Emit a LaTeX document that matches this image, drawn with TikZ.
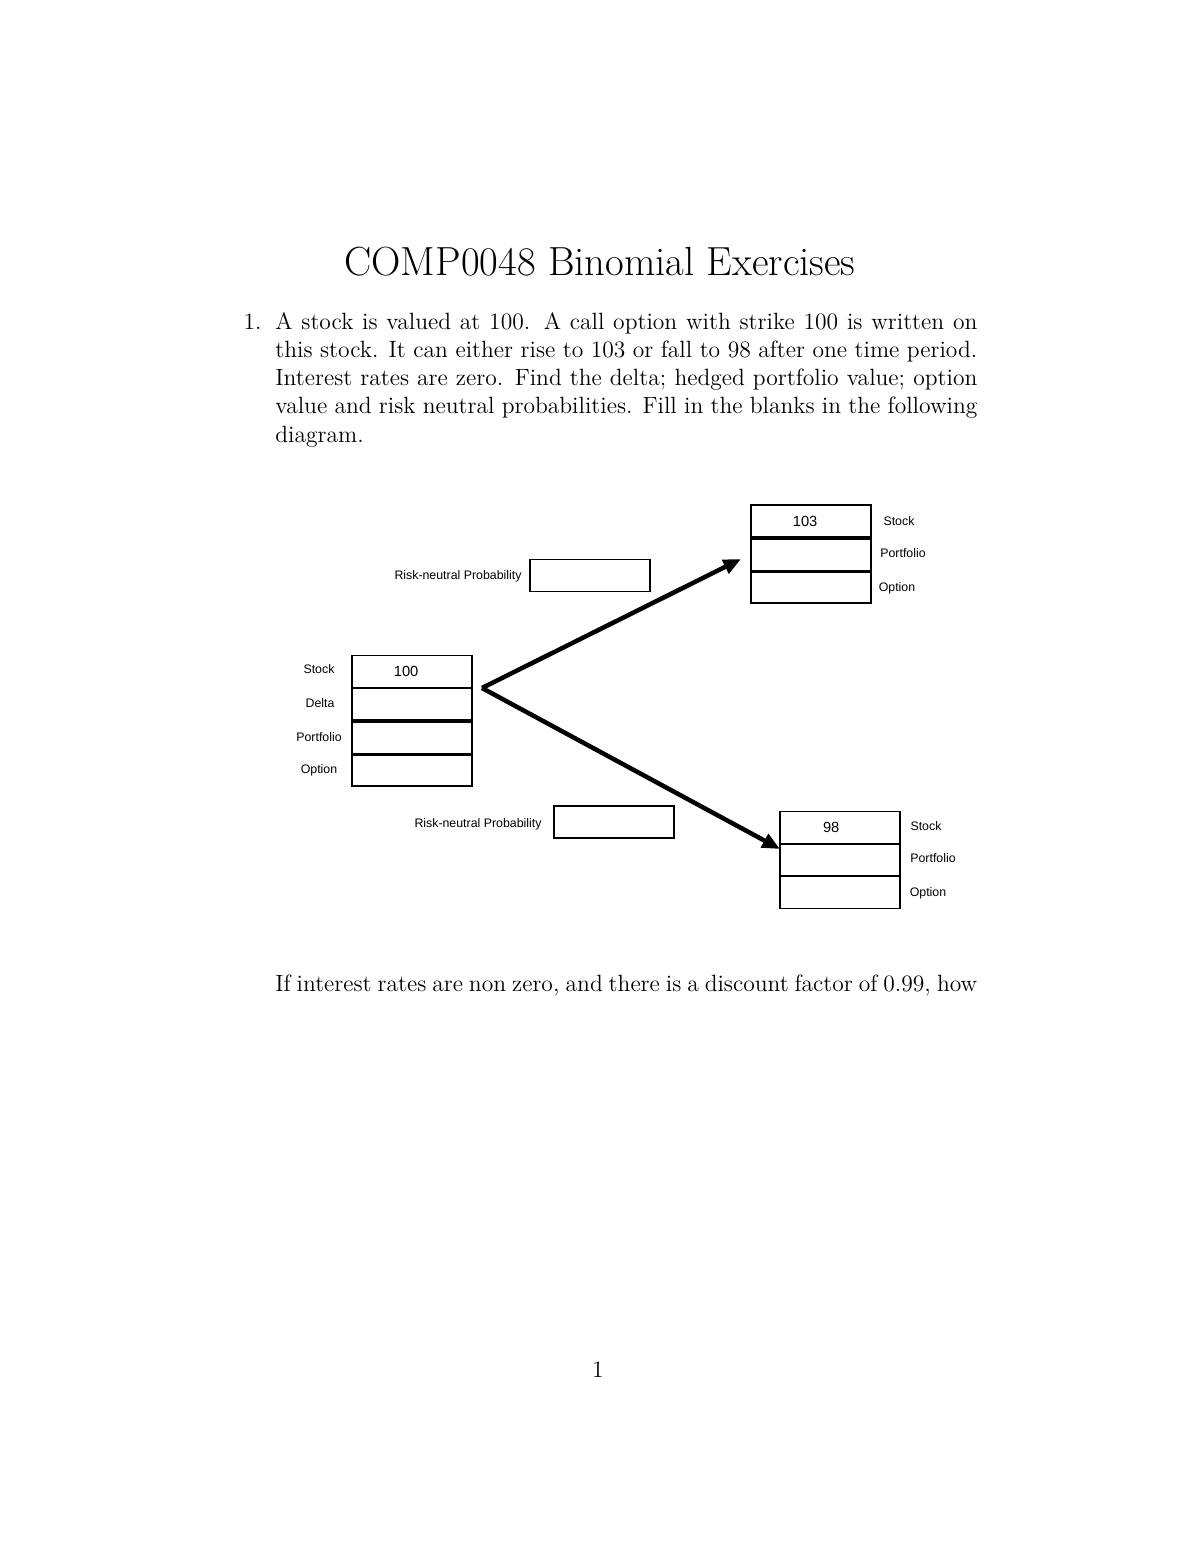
\documentclass[tikz,border=0pt]{standalone}
\usepackage{fontspec}
\newfontfamily\arial{Liberation Sans}
\usetikzlibrary{arrows.meta}
\begin{document}
\begin{tikzpicture}[x=0.51pt,y=-0.51pt,
  cell/.style={draw,line width=0.6pt,minimum width=61.2pt,minimum height=16.3pt,inner sep=0pt,font=\arial\fontsize{7.5}{8}\selectfont},
  lbl/.style={inner sep=0pt,font=\arial\fontsize{6.3}{7}\selectfont},
  sep/.style={line width=1.3pt},
  branch/.style={line width=2.3pt,-{Triangle[length=9pt,width=7.5pt]}},
  line/.style={inner sep=0pt,anchor=base west,font=\fontsize{12}{14.4}\selectfont}
]
\useasboundingbox (0,0) rectangle (1200,1553);
% title
\node[inner sep=0pt,font=\fontsize{20.74}{25}\selectfont] (title) at (600,262) {COMP0048 Binomial Exercises};
% question
\node[inner sep=0pt,anchor=base east,font=\fontsize{12}{14.4}\selectfont] (num) at (262,329) {1.};
\node[line] (q1) at (275,329) {\makebox[358pt][s]{A stock is valued at 100. A call option with strike 100 is written on}};
\node[line] (q2) at (275,357.3) {\makebox[358pt][s]{this stock. It can either rise to 103 or fall to 98 after one time period.}};
\node[line] (q3) at (275,385.6) {\makebox[358pt][s]{Interest rates are zero. Find the delta; hedged portfolio value; option}};
\node[line] (q4) at (275,413.9) {\makebox[358pt][s]{value and risk neutral probabilities. Fill in the blanks in the following}};
\node[line] (q5) at (275,442.2) {diagram.};
% left stack
\node[cell] (s0) at (412,671.5) {100\kern6pt};
\node[cell] (d0) at (412,704) {};
\node[cell] (p0) at (412,738) {};
\node[cell] (o0) at (412,770) {};
\draw[sep] (s0.south west) -- (s0.south east);
\draw[sep] (p0.south west) -- (p0.south east);
\node[lbl] (ls0) at (319,669) {Stock};
\node[lbl] (ld0) at (320,703) {Delta};
\node[lbl] (lp0) at (319,737) {Portfolio};
\node[lbl] (lo0) at (319,770) {Option};
% upper stack
\node[cell] (su) at (811,521) {103\kern6pt};
\node[cell] (pu) at (811,555) {};
\node[cell] (ou) at (811,587) {};
\draw[sep] (pu.south west) -- (pu.south east);
\node[lbl] (lsu) at (899,521) {Stock};
\node[lbl] (lpu) at (903,553) {Portfolio};
\node[lbl] (lou) at (897,588) {Option};
% lower stack
\node[cell] (sd) at (840,827.5) {98\kern9pt};
\node[cell] (pd) at (840,859.5) {};
\node[cell] (od) at (840,892.5) {};
\draw[sep] (sd.south west) -- (sd.south east);
\node[lbl] (lsd) at (926,826) {Stock};
\node[lbl] (lpd) at (933,858) {Portfolio};
\node[lbl] (lod) at (928,893) {Option};
% risk-neutral boxes
\node[cell] (ru) at (590,575.5) {};
\node[lbl] (lru) at (458,576) {Risk-neutral Probability};
\node[cell] (rd) at (614,822) {};
\node[lbl] (lrd) at (478,824) {Risk-neutral Probability};
% arrows
\coordinate (fork) at (482,688);
\coordinate (tipu) at (741,559);
\coordinate (tipd) at (780,849);
\draw[branch] (fork) -- (tipu);
\draw[branch] (fork) -- (tipd);
% follow-up text
\node[line] (r1) at (275,991) {\makebox[358pt][s]{If interest rates are non zero, and there is a discount factor of 0.99, how}};
% page number
\node[inner sep=0pt,font=\fontsize{12}{14.4}\selectfont] (pg) at (598,1370) {1};
\end{tikzpicture}
\end{document}
